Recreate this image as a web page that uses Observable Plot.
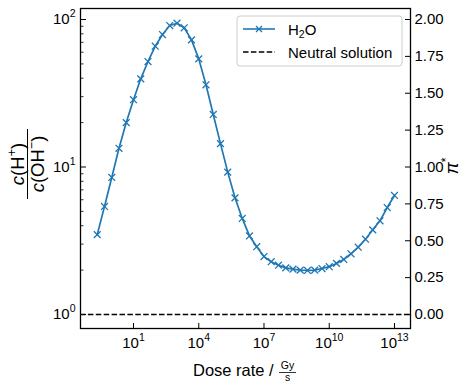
<!DOCTYPE html>
<html><head><meta charset="utf-8">
<script src="https://cdn.jsdelivr.net/npm/d3@7"></script>
<script src="https://cdn.jsdelivr.net/npm/@observablehq/plot@0.6"></script>
<style>body{margin:0;background:#fff}</style>
</head><body><div id="chart"></div>
<script>
// Dose rate (Gy/s)
const doseRate = [0.215, 0.464, 1, 2.15, 4.64, 10, 21.5, 46.4, 100, 215, 464,
  1e3, 2.15e3, 4.64e3, 1e4, 2.15e4, 4.64e4, 1e5, 2.15e5, 4.64e5, 1e6,
  2.15e6, 4.64e6, 1e7, 2.15e7, 4.64e7, 1e8, 2.15e8, 4.64e8, 1e9, 2.15e9,
  4.64e9, 1e10, 2.15e10, 4.64e10, 1e11, 2.15e11, 4.64e11, 1e12, 2.15e12, 4.64e12, 1e13];
// c(H+)/c(OH-) for H2O
const ratioH2O = [3.48, 5.40, 8.49, 13.4, 20.0, 28.6, 39.6, 51.9, 65.9, 79.1, 91.0,
  94.4, 87.9, 72.8, 54.1, 36.1, 22.7, 14.4, 9.23, 6.18, 4.48,
  3.41, 2.88, 2.47, 2.28, 2.16, 2.07, 2.03, 2.00, 1.99, 2.00,
  2.05, 2.11, 2.22, 2.36, 2.58, 2.86, 3.24, 3.75, 4.32, 5.31, 6.41];
const neutralSolution = [1];
const xTickValues = [1e1, 1e4, 1e7, 1e10, 1e13];
const yMajorTicks = [1, 10, 100];
const yMinorTicks = [2, 3, 4, 5, 6, 7, 8, 9, 20, 30, 40, 50, 60, 70, 80, 90];
const piTicks = [0, 0.25, 0.5, 0.75, 1.0, 1.25, 1.5, 1.75, 2.0];

const data = doseRate.map((d, i) => ({dose: d, ratio: ratioH2O[i]}));
const W = 474, H = 389, mL = 80, mR = 64, mT = 8, mB = 61;
const fw = W - mL - mR, fh = H - mT - mB;
const blue = "#1f77b4";
const font = "'Liberation Sans', Arial, sans-serif";

const svg = Plot.plot({
  width: W, height: H,
  marginLeft: mL, marginRight: mR, marginTop: mT, marginBottom: mB,
  style: {fontFamily: font, fontSize: "15px", background: "white", color: "black"},
  x: {type: "log", domain: [10 ** -1.437, 10 ** 13.736], label: null},
  y: {type: "log", domain: [10 ** -0.0949, 10 ** 2.0746], label: null},
  marks: [
    Plot.ruleY(neutralSolution, {y: d => d, stroke: "black", strokeWidth: 1.5, strokeDasharray: "5.5,2.4"}),
    Plot.line(data, {x: "dose", y: "ratio", stroke: blue, strokeWidth: 1.7}),
    Plot.dot(data, {x: "dose", y: "ratio", symbol: "times", r: 3.2, stroke: blue, strokeWidth: 1.3}),
    Plot.tickX(xTickValues, {x: d => d, insetTop: fh - 5, stroke: "black", strokeWidth: 1}),
    Plot.tickY(yMajorTicks, {y: d => d, insetRight: fw - 6, stroke: "black", strokeWidth: 1}),
    Plot.tickY(yMinorTicks, {y: d => d, insetRight: fw - 3.5, stroke: "black", strokeWidth: 0.8}),
    Plot.tickY(piTicks, {y: p => 10 ** p, insetLeft: fw - 5, stroke: "black", strokeWidth: 1}),
    Plot.axisX(xTickValues, {anchor: "bottom", tickSize: 0, tickPadding: 9, fontSize: 15, label: null,
      tickFormat: d => "10^" + Math.round(Math.log10(d))}),
    Plot.axisY(yMajorTicks, {anchor: "left", tickSize: 0, tickPadding: 5, fontSize: 15, label: null,
      tickFormat: d => "10^" + Math.round(Math.log10(d))}),
    Plot.text(piTicks, {y: p => 10 ** p, text: p => p.toFixed(2), frameAnchor: "right", dx: 4,
      textAnchor: "start", fontSize: 15, fill: "black"}),
    Plot.frame({stroke: "black", strokeWidth: 1.3})
  ]
});

const s = d3.select(svg);
s.selectAll("g[aria-label='x-axis tick label'] text, g[aria-label='y-axis tick label'] text").each(function () {
  const m = /^10\^(\d+)$/.exec(this.textContent);
  if (m) {
    this.textContent = "10";
    d3.select(this).append("tspan").attr("dy", -7).attr("font-size", 10.5).text(m[1]);
  }
});

// Y label (fraction)
const cy = 164;
const yl = s.append("g").attr("font-family", font).attr("font-size", 18.5).attr("fill", "black");
const num = yl.append("text").attr("transform", `translate(24,${cy}) rotate(-90)`).attr("text-anchor", "middle");
num.append("tspan").attr("font-style", "italic").text("c");
num.append("tspan").text("(H");
num.append("tspan").attr("font-size", 12.5).attr("dy", -8).text("+");
num.append("tspan").attr("dy", 8).text(")");
yl.append("line").attr("x1", 27.5).attr("x2", 27.5).attr("y1", 129).attr("y2", 199).attr("stroke", "black").attr("stroke-width", 1);
const den = yl.append("text").attr("transform", `translate(44,${cy}) rotate(-90)`).attr("text-anchor", "middle");
den.append("tspan").attr("font-style", "italic").text("c");
den.append("tspan").text("(OH");
den.append("tspan").attr("font-size", 12.5).attr("dy", -8).text("\u2212");
den.append("tspan").attr("dy", 8).text(")");

// Right label π*
const pl = s.append("text").attr("transform", "translate(458,166) rotate(-90)").attr("text-anchor", "middle")
  .attr("font-family", font).attr("font-size", 18).attr("fill", "black");
pl.append("tspan").attr("font-style", "italic").text("\u03c0");
pl.append("tspan").attr("font-size", 12).attr("dy", -8).text("*");

// X label
const xl = s.append("g").attr("font-family", font).attr("fill", "black").attr("text-anchor", "start");
xl.append("text").attr("x", 193).attr("y", 376).attr("font-size", 16.5).text("Dose rate /");
xl.append("text").attr("x", 287.5).attr("y", 369).attr("font-size", 10.5).attr("text-anchor", "middle").text("Gy");
xl.append("line").attr("x1", 279).attr("x2", 296).attr("y1", 372.5).attr("y2", 372.5).attr("stroke", "black").attr("stroke-width", 0.8);
xl.append("text").attr("x", 287.5).attr("y", 381).attr("font-size", 10.5).attr("text-anchor", "middle").text("s");

// Legend
const lg = s.append("g").attr("font-family", font).attr("font-size", 15).attr("fill", "black").attr("text-anchor", "start");
lg.append("rect").attr("x", 237).attr("y", 16).attr("width", 165).attr("height", 50).attr("rx", 3)
  .attr("fill", "white").attr("fill-opacity", 0.8).attr("stroke", "#cccccc").attr("stroke-width", 1);
lg.append("line").attr("x1", 243).attr("x2", 275).attr("y1", 29).attr("y2", 29).attr("stroke", blue).attr("stroke-width", 1.6);
lg.append("path").attr("d", "M256,26L262,32M256,32L262,26").attr("stroke", blue).attr("stroke-width", 1.3);
const t1 = lg.append("text").attr("x", 288).attr("y", 34.5);
t1.append("tspan").text("H");
t1.append("tspan").attr("font-size", 10.5).attr("dy", 3.5).text("2");
t1.append("tspan").attr("dy", -3.5).text("O");
lg.append("line").attr("x1", 243).attr("x2", 275).attr("y1", 52).attr("y2", 52).attr("stroke", "black")
  .attr("stroke-width", 1.5).attr("stroke-dasharray", "5.5,2.4");
lg.append("text").attr("x", 288).attr("y", 57.5).text("Neutral solution");

document.getElementById("chart").appendChild(svg);
</script>
</body></html>
